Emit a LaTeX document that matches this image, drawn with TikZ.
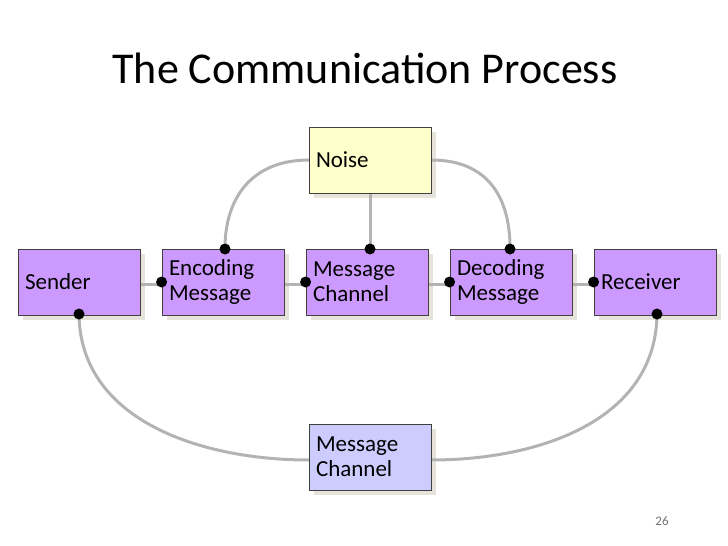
\documentclass[tikz,border=0pt]{standalone}
\usepackage{fontspec}
\setmainfont{Carlito}
\definecolor{Violet}{HTML}{CC99FF}
\definecolor{Noisebg}{HTML}{FFFFCC}
\definecolor{Chan}{HTML}{CCCCFF}
\definecolor{Shade}{HTML}{E6E3DA}
\definecolor{Wire}{HTML}{B3B3B3}
\tikzset{
  box/.style={draw=black!75, line width=0.8pt, rectangle, minimum width=122pt,
              minimum height=66pt, text width=108pt, align=left, inner sep=7pt,
              font=\fontsize{23}{25}\selectfont},
  wire/.style={draw=Wire, line width=3pt},
  dot/.style={circle, fill=black, inner sep=0pt, minimum size=11pt},
}
\begin{document}
\begin{tikzpicture}[x=1pt,y=-1pt]
  \useasboundingbox (0,0) rectangle (728,546);

  % shadows
  \foreach \cx/\cy in {79/282, 223/282, 367/282, 511/282, 655/282, 370/160, 370/457}
    \fill[Shade] (\cx-56,\cy-28) rectangle (\cx+66,\cy+38);

  % wires behind boxes
  \coordinate (ws) at (79,314);
  \coordinate (wr) at (657,314);
  \draw[wire] (140,284) -- (162,284);
  \draw[wire] (284,284) -- (306,284);
  \draw[wire] (428,284) -- (450,284);
  \draw[wire] (572,284) -- (594,284);
  \draw[wire] (309,160) .. controls (250,160) and (225,200) .. (225,248);
  \draw[wire] (431,160) .. controls (490,160) and (510,200) .. (510,248);
  \draw[wire] (370,193) -- (370,248);
  \draw[wire] (ws) .. controls (80,420) and (200,460) .. (309,460);
  \draw[wire] (wr) .. controls (656,420) and (540,460) .. (431,460);

  % boxes
  \node[box, fill=Violet] (sender) at (79,282) {Sender};
  \node[box, fill=Violet] (enc) at (223,282) {Encoding\\Message};
  \node[box, fill=Violet] (chan) at (367,282) {Message\\Channel};
  \node[box, fill=Violet] (dec) at (511,282) {Decoding\\Message};
  \node[box, fill=Violet] (recv) at (655,282) {Receiver};
  \node[box, fill=Noisebg] (noise) at (370,160) {Noise};
  \node[box, fill=Chan] (fb) at (370,457) {Message\\Channel};

  % dots
  \node[dot] (d1) at (enc.west) {};
  \node[dot] (d2) at (chan.west) {};
  \node[dot] (d3) at (dec.west) {};
  \node[dot] (d4) at (recv.west) {};
  \node[dot] (d5) at (225,249) {};
  \node[dot] (d6) at (370,249) {};
  \node[dot] (d7) at (510,249) {};
  \node[dot] (d8) at (ws) {};
  \node[dot] (d9) at (wr) {};

  \node[font=\fontsize{44}{46}\selectfont] (title) at (365,68) {The Communication Process};
  \node[font=\fontsize{13}{14}\selectfont, text=black!55] (num) at (662,521) {26};
\end{tikzpicture}
\end{document}
